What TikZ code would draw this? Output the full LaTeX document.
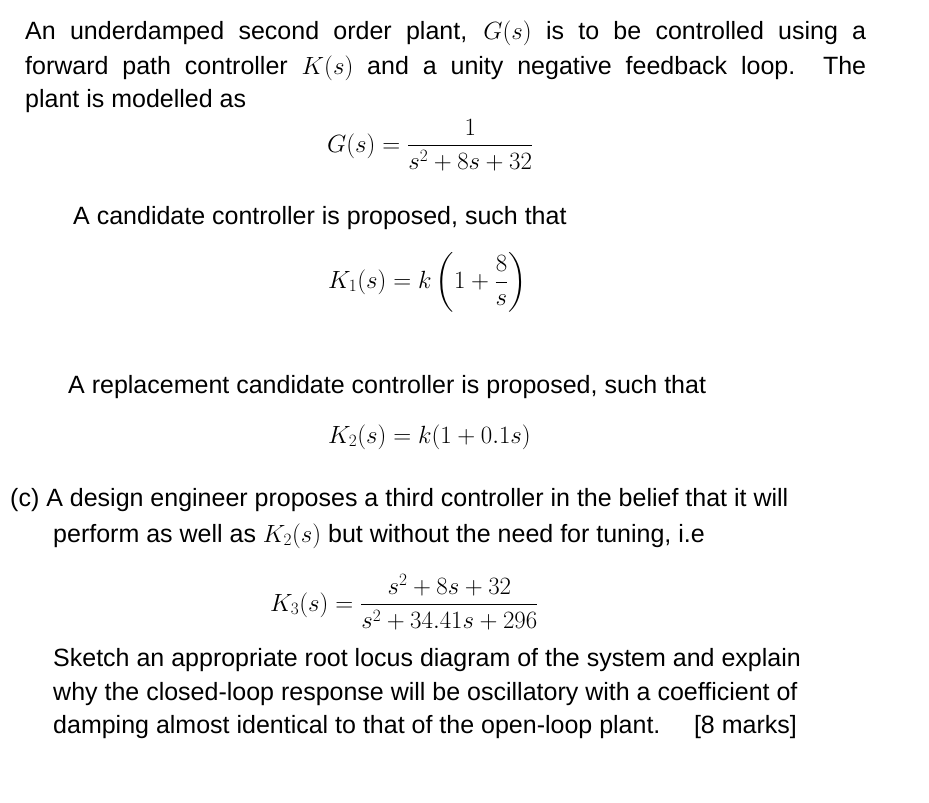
\documentclass[tikz,border=0pt]{standalone}
\usepackage{amsmath}
\usepackage{fontspec}
\setmainfont{Liberation Sans}
\begin{document}
\begin{tikzpicture}[x=1pt,y=-1pt,
  txt/.style={anchor=west,inner sep=0pt,font=\fontsize{25}{30}\selectfont},
  eq/.style={anchor=west,inner sep=0pt,font=\fontsize{26.5}{30}\selectfont}]
\useasboundingbox[fill=white] (0,0) rectangle (929,803);
\node[txt] (l1) at (25,33) {\makebox[841pt][s]{An underdamped second order plant, \fontsize{27}{30}\selectfont$G(s)$\fontsize{25}{30}\selectfont{} is to be controlled using a}};
\node[txt] (l2) at (25,68) {\makebox[841pt][s]{forward path controller \fontsize{27}{30}\selectfont$K(s)$\fontsize{25}{30}\selectfont{} and a unity negative feedback loop.\ \ The}};
\node[txt] (l3) at (25,101) {plant is modelled as};
\node[eq] (e1) at (327,145) {$\displaystyle G(s)=\frac{1}{s^2+8s+32}$};
\node[txt] (l4) at (73,218) {A candidate controller is proposed, such that};
\node[eq] (e2) at (328,282) {$\displaystyle K_1(s)=k\left(1+\frac{8}{s}\right)$};
\node[txt] (l5) at (68,387) {A replacement candidate controller is proposed, such that};
\node[eq] (e3) at (328,437) {$K_2(s)=k(1+0.1s)$};
\node[txt] (l6) at (10,500) {(c) A design engineer proposes a third controller in the belief that it will};
\node[txt] (l7) at (53,536) {perform as well as {\fontsize{27}{30}\selectfont$K_2(s)$} but without the need for tuning, i.e};
\node[eq] (e4) at (270,602) {$\displaystyle K_3(s)=\frac{s^2+8s+32}{s^2+34.41s+296}$};
\node[txt] (l8) at (53,660) {Sketch an appropriate root locus diagram of the system and explain};
\node[txt] (l9) at (53,694) {why the closed-loop response will be oscillatory with a coefficient of};
\node[txt] (l10) at (53,727) {damping almost identical to that of the open-loop plant.};
\node[txt,anchor=east] (m) at (797,727) {[8 marks]};
\end{tikzpicture}
\end{document}
